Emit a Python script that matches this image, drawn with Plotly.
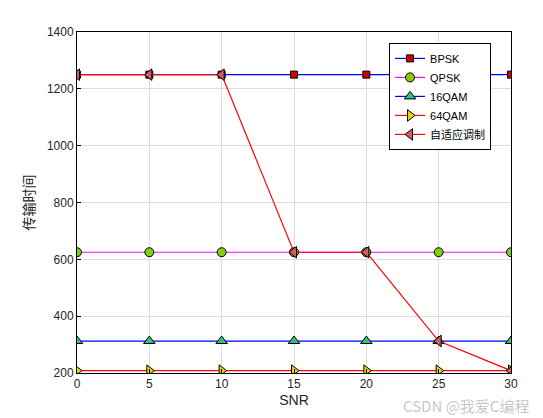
import plotly.graph_objects as go

snr = [0, 5, 10, 15, 20, 25, 30]
bpsk = [1250, 1250, 1250, 1250, 1250, 1250, 1250]
qpsk = [625, 625, 625, 625, 625, 625, 625]
qam16 = [312.5, 312.5, 312.5, 312.5, 312.5, 312.5, 312.5]
qam64 = [208.3, 208.3, 208.3, 208.3, 208.3, 208.3, 208.3]
adaptive = [1250, 1250, 1250, 625, 625, 312.5, 208.3]

series = [
    ("BPSK", bpsk, "#0000ff", "square", "#cc0000", 7),
    ("QPSK", qpsk, "#ff00ff", "circle", "#80d010", 9),
    ("16QAM", qam16, "#0000ff", "triangle-up", "#30c080", 10),
    ("64QAM", qam64, "#ff0000", "triangle-right", "#e8d800", 10),
    ("自适应调制", adaptive, "#ff0000", "triangle-left", "#d06060", 10),
]

fig = go.Figure()
for name, vals, lc, sym, mc, ms in series:
    fig.add_trace(go.Scatter(
        x=snr, y=vals, name=name, mode="lines+markers",
        line=dict(color=lc, width=1.2),
        marker=dict(symbol=sym, color=mc, size=ms, line=dict(color="black", width=1)),
    ))

axis_font = dict(family="Liberation Sans, Arial", size=12, color="#262626")
fig.update_xaxes(range=[0, 30], tickvals=snr, showline=True, linecolor="black", linewidth=1,
                 mirror=True, ticks="inside", ticklen=4, tickcolor="black",
                 gridcolor="#dcdcdc", zeroline=False, tickfont=axis_font,
                 title=dict(text="SNR", font=dict(family="Liberation Sans, Arial", size=14, color="#262626"),
                            standoff=4))
fig.update_yaxes(range=[200, 1400], dtick=200, showline=True, linecolor="black", linewidth=1,
                 mirror=True, ticks="inside", ticklen=4, tickcolor="black",
                 gridcolor="#dcdcdc", zeroline=False, tickfont=axis_font,
                 title=dict(text="传输时间", font=dict(family="Noto Sans CJK SC", size=14, color="#262626"),
                            standoff=8))

# 水印
fig.add_annotation(text="CSDN @我爱C编程", xref="paper", yref="paper", x=1.046, y=-0.095,
                   xanchor="right", yanchor="middle", showarrow=False,
                   font=dict(family="Noto Sans CJK SC", size=15, color="rgba(150,150,150,0.55)"))

fig.update_layout(
    width=536, height=411,
    margin=dict(l=69, r=33, t=24, b=46),
    plot_bgcolor="white", paper_bgcolor="white",
    showlegend=True,
    legend=dict(x=0.719, y=0.968, xanchor="left", yanchor="top",
                bgcolor="white", bordercolor="black", borderwidth=1,
                font=dict(family="Liberation Sans, Noto Sans CJK SC", size=11, color="black"),
                tracegroupgap=0, itemwidth=30),
)

fig.write_html("out.html")
